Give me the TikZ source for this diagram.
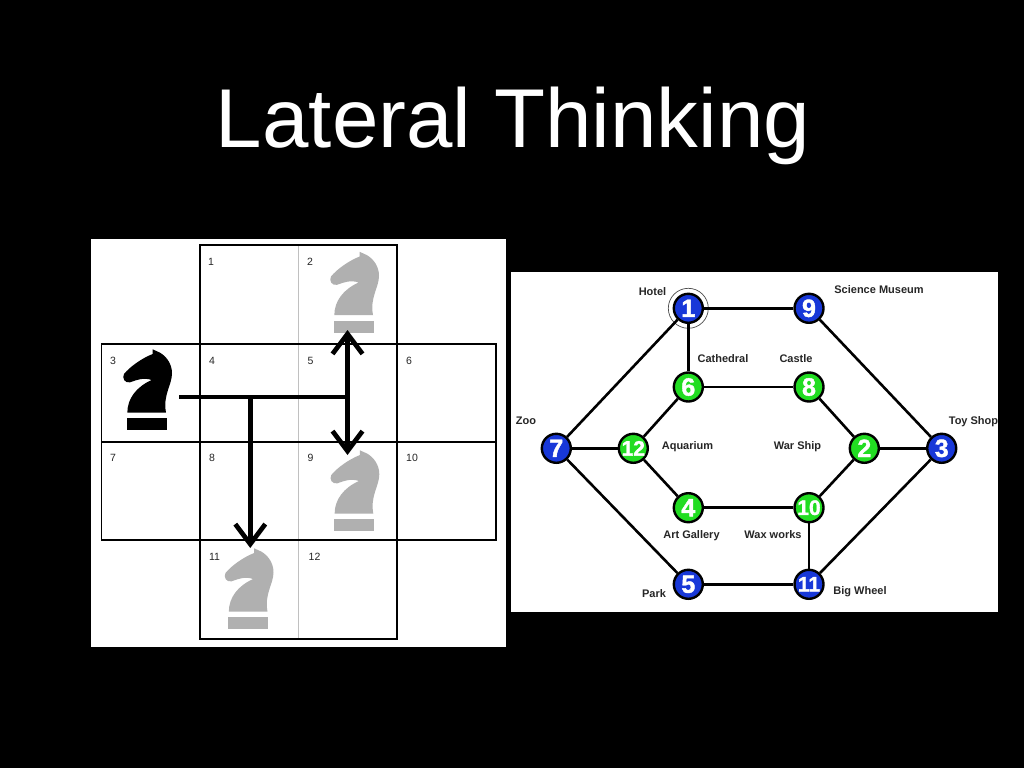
\documentclass[tikz,border=0pt]{standalone}
\usepackage{fontspec}
\setmainfont{Liberation Sans}
\newfontfamily\numfont[BoldFeatures={FakeBold=1.6}]{Liberation Sans}
\usetikzlibrary{arrows.meta}
\definecolor{knightgray}{HTML}{B0B0B0}
\definecolor{nodeblue}{HTML}{1838D8}
\definecolor{nodegreen}{HTML}{22DD22}
\tikzset{
  gridline/.style={black,line width=1.1pt},
  midline/.style={knightgray!80!white,line width=1.5pt},
  cellnum/.style={font=\fontsize{10.5}{11}\selectfont,inner sep=0pt,text=black!85},
  movepath/.style={black,line width=4.7pt,line cap=butt},
  movearrow/.style={movepath,-{Straight Barb[length=20pt,width=30pt,line width=4.7pt]}},
  station/.style={circle,draw=black,line width=2.4pt,minimum size=29pt,inner sep=0pt,text=white,font=\fontsize{25}{25}\numfont\bfseries},
  bluest/.style={station,fill=nodeblue},
  greenst/.style={station,fill=nodegreen},
  track/.style={black,line width=2.6pt},
  heavytrack/.style={black,line width=3.2pt},
  placename/.style={font=\fontsize{11}{12}\selectfont\bfseries,inner sep=0pt,text=black!85,anchor=base},
  pics/knight/.style={code={
    \fill[#1,scale=1/3] (128,28) -- (150,38) .. controls (170,50) and (186,72) .. (186,100)
      .. controls (186,135) and (158,165) .. (168,218) -- (52,218)
      .. controls (52,175) and (80,140) .. (125,120)
      .. controls (100,112) and (85,118) .. (60,127)
      .. controls (45,130) and (35,115) .. (42,102)
      .. controls (60,80) and (95,55) .. (128,42) -- cycle;
    \fill[#1,scale=1/3] (50,235) rectangle (170,270);
  }}
}
\begin{document}
\begin{tikzpicture}[x=1pt,y=-1pt]
\useasboundingbox (0,0) rectangle (1024,768);
\fill[black] (0,0) rectangle (1024,768);
\node[anchor=base,text=white,inner sep=0pt,font=\fontsize{83.5}{90}\selectfont] (title) at (513,147.5) {Lateral Thinking};

% left panel
\fill[white] (91,239) rectangle (506,647);
\draw[midline] (298.7,245) -- (298.7,639);
\draw[gridline] (200,245) rectangle (397,639);
\draw[gridline] (101.5,344) rectangle (496,442);
\draw[gridline] (101.5,442) rectangle (496,540);
\node[cellnum] (c1) at (211,262) {1};
\node[cellnum] (c2) at (310,262) {2};
\node[cellnum] (c3) at (113,361) {3};
\node[cellnum] (c4) at (212,361) {4};
\node[cellnum] (c5) at (310.5,361) {5};
\node[cellnum] (c6) at (409,361) {6};
\node[cellnum] (c7) at (113,458) {7};
\node[cellnum] (c8) at (212,458) {8};
\node[cellnum] (c9) at (310.5,458) {9};
\node[cellnum] (c10) at (412,458) {10};
\node[cellnum] (c11) at (214.5,556.5) {11};
\node[cellnum] (c12) at (314.5,556.5) {12};
\pic at (110,340) {knight=black};
\pic at (317,242.5) {knight=knightgray};
\pic at (317.3,441) {knight=knightgray};
\pic at (211.5,539) {knight=knightgray};
\coordinate (start) at (179,397);
\coordinate (fork) at (250.3,397);
\coordinate (turn) at (347.5,397);
\coordinate (up) at (347.5,330);
\coordinate (down) at (347.5,455);
\coordinate (low) at (250.3,548);
\draw[movepath] (start) -- (turn);
\draw[movearrow] (turn) -- (up);
\draw[movearrow] (turn) -- (down);
\draw[movearrow] (fork) -- (low);

% right panel
\fill[white] (511,272) rectangle (998,612);
\node[bluest] (n1) at (688.3,308.3) {1};
\node[bluest] (n9) at (809,308.3) {9};
\node[greenst] (n6) at (688.3,387) {6};
\node[greenst] (n8) at (809,387) {8};
\node[bluest] (n7) at (556.3,448.3) {7};
\node[greenst] (n12) at (633.3,448.3) {\fontsize{21}{21}\selectfont 12};
\node[greenst] (n2) at (864.3,448.3) {2};
\node[bluest] (n3) at (941.7,448.3) {3};
\node[greenst] (n4) at (688.3,507.7) {4};
\node[greenst] (n10) at (809,507.7) {\fontsize{21}{21}\selectfont 10};
\node[bluest] (n5) at (688.3,584.3) {5};
\node[bluest] (n11) at (809,584.3) {\fontsize{21}{21}\selectfont 11};
\draw[black!70,line width=.7pt] (n1) circle (20pt);
\foreach \a/\b in {n1/n9,n1/n7,n6/n8,n6/n12,n7/n12,n7/n5,n12/n4,n4/n10,n5/n11,n9/n3,n8/n2,n2/n3,n2/n10,n10/n11,n11/n3}
  \draw[track] (\a) -- (\b);
\draw[heavytrack] (n1) -- (n6);
\node[placename] (hotel) at (652.5,295) {Hotel};
\node[placename] (science) at (879,293.3) {Science Museum};
\node[placename] (cathedral) at (723,362.7) {Cathedral};
\node[placename] (castle) at (796,362.7) {Castle};
\node[placename] (zoo) at (526,424.3) {Zoo};
\node[placename] (toy) at (973.5,424.3) {Toy Shop};
\node[placename] (aquarium) at (687.5,449) {Aquarium};
\node[placename] (warship) at (797.5,449) {War Ship};
\node[placename] (gallery) at (691.5,538) {Art Gallery};
\node[placename] (wax) at (773,538) {Wax works};
\node[placename] (park) at (654,597.3) {Park};
\node[placename] (wheel) at (860,594.3) {Big Wheel};
\end{tikzpicture}
\end{document}
